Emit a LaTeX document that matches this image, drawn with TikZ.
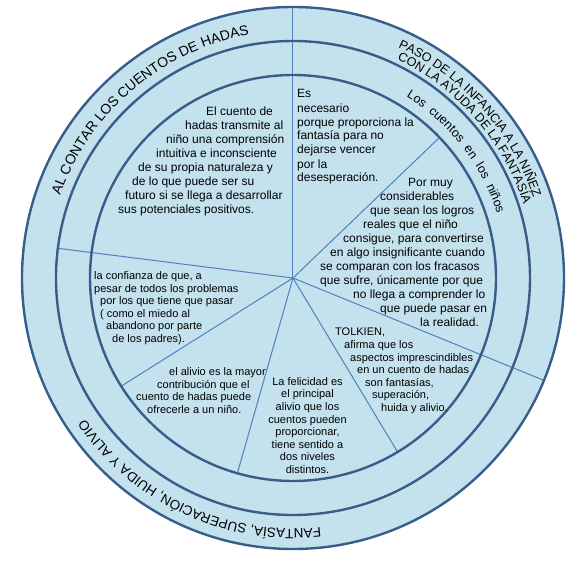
\documentclass[tikz,border=0pt]{standalone}
\usepackage{fontspec}
\setmainfont{Liberation Sans}
\usetikzlibrary{decorations.text}
\definecolor{ringfill}{RGB}{196,226,238}
\definecolor{ringline}{RGB}{56,93,138}
\definecolor{spokeline}{RGB}{79,129,189}
\newcommand{\bigarc}{\fontsize{14}{14}\selectfont}
\newcommand{\midarc}{\fontsize{13.5}{14}\selectfont}
\newcommand{\smallarc}{\fontsize{12.5}{13}\selectfont}

\begin{document}
\begin{tikzpicture}[x=1pt,y=1pt,
  ring/.style={draw=ringline,line width=2.4pt},
  spoke/.style={draw=spokeline,line width=1pt},
  bigblurb/.style={inner sep=0pt,anchor=base west,align=left,font=\fontsize{12}{14}\selectfont},
  blurb/.style={inner sep=0pt,anchor=base west,align=left,font=\fontsize{11}{12.6}\selectfont}]
\useasboundingbox (-293,-282) rectangle (291,278);
\coordinate (o) at (0,0);
% Rings
\fill[ringfill] (o) circle[radius=271];
\foreach \a/\r in {90/271,43.8/203,-22.2/271,-59/203,254.1/203,212.2/203,172.8/237} {
  \draw[spoke] (o) -- (\a:\r);
}
\foreach \r in {271,237,203} {
  \draw[ring] (o) circle[radius=\r];
}

% Texts on the outer ring
\path[decorate,decoration={text along path,text={|\bigarc|AL CONTAR LOS CUENTOS DE HADAS}}]
  (160.5:247) arc[start angle=160.5,end angle=80,radius=247];
\path[decorate,decoration={text along path,text={|\smallarc|PASO DE LA INFANCIA A LA NIÑEZ}}]
  (65.5:253.5) arc[start angle=65.5,end angle=0,radius=253.5];
\path[decorate,decoration={text along path,text={|\smallarc|CON LA AYUDA DE LA FANTASÍA}}]
  (64.5:242) arc[start angle=64.5,end angle=0,radius=242];
\path[decorate,decoration={text along path,text={|\midarc|FANTASÍA, SUPERACIÓN, HUIDA Y ALIVIO}}]
  (276.3:251) arc[start angle=276.3,end angle=190,radius=251];
% Text on the middle ring
\path[decorate,decoration={text along path,text={|\smallarc|Los{\ \ }cuentos{\ \ }en{\ \ }los{\ \ }niños}}]
  (58:214) arc[start angle=58,end angle=0,radius=214];

% Inner sectors (placed by the baseline of the last line)
\node[bigblurb] (hadas) at (-175,65) {\hspace*{88pt}El cuento de\\ \hspace*{67pt}hadas transmite al\\
  \hspace*{48pt}niño una comprensión\\ \hspace*{38pt}intuitiva e  inconsciente\\
  \hspace*{20pt}de su propia naturaleza y\\ \hspace*{14pt}de lo que puede  ser su\\
  \hspace*{7pt}futuro si se llega a  desarrollar\\ sus potenciales positivos.};
\node[bigblurb] (necesario) at (4,96) {Es\\ necesario\\ porque proporciona la\\ fantasía para no\\
  dejarse vencer\\ por la\\ desesperación.};
\node[bigblurb] (logros) at (27,-48) {\hspace*{88pt}Por muy\\ \hspace*{60pt}considerables\\
  \hspace*{50pt}que sean los logros\\ \hspace*{43pt}reales que el niño\\
  \hspace*{23pt}consigue, para convertirse\\ \hspace*{10pt}en algo insignificante cuando\\
  se comparan con los fracasos\\ que sufre, únicamente por que\\
  \hspace*{33pt}no llega a comprender  lo\\ \hspace*{60pt}que puede pasar en\\
  \hspace*{100pt}la realidad.};
\node[blurb] (tolkien) at (42,-133.5) {TOLKIEN,\\ \hspace*{9pt}afirma que los\\
  \hspace*{15pt}aspectos imprescindibles\\ \hspace*{22pt}en un cuento de hadas\\
  \hspace*{30pt}son  fantasías,\\ \hspace*{37pt}superación,\\ \hspace*{46pt}huida y alivio.};
\node[blurb] (confianza) at (-199,-64.5) {la confianza de que, a\\ pesar de todos los problemas\\
  \hspace*{6pt}por los que tiene que pasar\\ \hspace*{6pt}( como el miedo al\\
  \hspace*{12pt}abandono por parte\\ \hspace*{18pt}de los padres).};
\node[blurb] (alivio) at (-157,-135.5) {\hspace*{33pt}el alivio es la mayor\\ \hspace*{21pt}contribución que el\\
  cuento de hadas  puede\\ \hspace*{11pt}ofrecerle a un niño.};
\node[blurb,anchor=base,align=center] (felicidad) at (14.5,-195.5) {La felicidad es\\ el principal\\
  alivio que los\\ cuentos pueden\\ proporcionar,\\ tiene sentido a\\ dos niveles\\ distintos.};
\end{tikzpicture}
\end{document}
